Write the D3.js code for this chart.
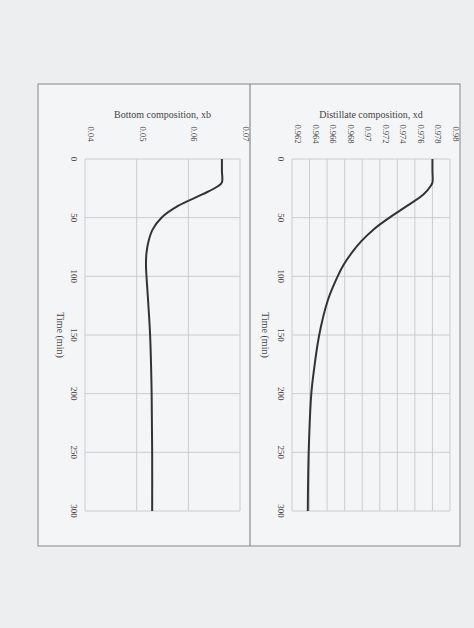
<!DOCTYPE html><html><head><script src="https://cdn.jsdelivr.net/npm/d3@7"></script>
<style>body{margin:0;background:#e9ebee}svg{font-family:"Liberation Serif",serif}</style></head><body>
<script>
const timeTicks=[0,50,100,150,200,250,300];
const xdTicks=[0.962,0.964,0.966,0.968,0.97,0.972,0.974,0.976,0.978,0.98];
const xbTicks=[0.04,0.05,0.06,0.07];
const xdTime=[0,10,20,23,30,40,50,60,70,80,90,100,120,150,180,200,250,300];
const xdVals=[0.978,0.978,0.978,0.9778,0.977,0.9751,0.9731,0.9713,0.9699,0.9688,0.9679,0.9672,0.9661,0.9651,0.9645,0.9642,0.9639,0.9638];
const xbTime=[0,10,20,23,30,40,50,60,70,80,90,100,120,150,200,250,300];
const xbVals=[0.0665,0.0665,0.0665,0.0658,0.0628,0.058,0.0548,0.0531,0.0523,0.0519,0.0518,0.0519,0.0522,0.0526,0.0529,0.053,0.053];
const svg=d3.select("body").append("svg").attr("width",474).attr("height",628);
svg.append("rect").attr("width",474).attr("height",628).attr("fill","#eceef0");
svg.append("rect").attr("x",38).attr("y",84).attr("width",422).attr("height",462).attr("fill","#f4f5f6").attr("stroke","#888");
svg.append("line").attr("x1",250).attr("x2",250).attr("y1",84).attr("y2",546).attr("stroke","#777");
function panel(x0,x1,ticks,dom,times,vals,title){
  const x=d3.scaleLinear().domain(dom).range([x0,x1]);
  const y=d3.scaleLinear().domain([0,300]).range([159,511]);
  const g=svg.append("g");
  ticks.forEach(t=>g.append("line").attr("x1",x(t)).attr("x2",x(t)).attr("y1",y(0)).attr("y2",y(300)).attr("stroke","#ccc"));
  timeTicks.forEach(t=>g.append("line").attr("x1",x0).attr("x2",x1).attr("y1",y(t)).attr("y2",y(t)).attr("stroke","#ccc"));
  ticks.forEach(t=>g.append("text").attr("transform",`translate(${x(t)+3},${y(0)-25}) rotate(90)`).attr("text-anchor","middle").attr("font-size",8.5).attr("fill","#444").text(t));
  timeTicks.forEach(t=>g.append("text").attr("transform",`translate(${x0-14},${y(t)}) rotate(90)`).attr("text-anchor","middle").attr("font-size",9).attr("fill","#444").text(t));
  g.append("text").attr("x",(x0+x1)/2).attr("y",118).attr("text-anchor","middle").attr("font-size",10).attr("fill","#444").text(title);
  g.append("text").attr("transform",`translate(${(x0+x1)/2-8},${y(150)}) rotate(90)`).attr("text-anchor","middle").attr("font-size",10).attr("fill","#444").attr("dy","0.3em").text("");
  g.append("path").datum(times.map((t,i)=>[t,vals[i]])).attr("fill","none").attr("stroke","#333").attr("stroke-width",2)
   .attr("d",d3.line().x(d=>x(d[1])).y(d=>y(d[0])).curve(d3.curveCatmullRom));
  return y;
}
const y1=panel(292,450,xdTicks,[0.962,0.98],xdTime,xdVals,"Distillate composition, xd");
const y2=panel(85,240,xbTicks,[0.04,0.07],xbTime,xbVals,"Bottom composition, xb");
svg.append("text").attr("transform",`translate(262,${y1(150)}) rotate(90)`).attr("text-anchor","middle").attr("font-size",10).attr("fill","#444").text("Time (min)");
svg.append("text").attr("transform",`translate(57,${y2(150)}) rotate(90)`).attr("text-anchor","middle").attr("font-size",10).attr("fill","#444").text("Time (min)");
</script></body></html>
